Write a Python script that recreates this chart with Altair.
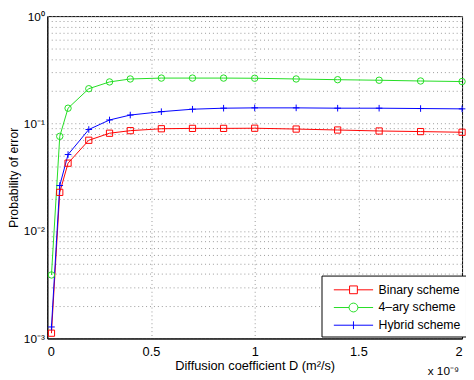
import altair as alt
import pandas as pd

# Diffusion coefficient in units of 1e-9 m^2/s
D = [0.02, 0.06, 0.1, 0.2, 0.3, 0.4, 0.55, 0.7, 0.85, 1.0, 1.2, 1.4, 1.6, 1.8, 2.0]
binary = [0.00112, 0.0229, 0.0428, 0.0699, 0.0813, 0.0859, 0.0895, 0.0902, 0.0902, 0.0905,
          0.0889, 0.0871, 0.0853, 0.0842, 0.083]
quaternary = [0.0039, 0.076, 0.139, 0.211, 0.244, 0.26, 0.265, 0.265, 0.265, 0.264,
              0.26, 0.256, 0.253, 0.249, 0.246]
hybrid = [0.00128, 0.0265, 0.0515, 0.088, 0.108, 0.12, 0.129, 0.136, 0.139, 0.140,
          0.140, 0.139, 0.139, 0.138, 0.137]
names = ["Binary scheme", "4\u2013ary scheme", "Hybrid scheme"]
colors = ["#ff0000", "#22dd22", "#0000ff"]

rows = []
for name, vals in zip(names, [binary, quaternary, hybrid]):
    for d, v in zip(D, vals):
        rows.append({"D": d, "P": v, "scheme": name})
df = pd.DataFrame(rows)

y_vals = [m * 10 ** e for e in [-3, -2, -1] for m in range(1, 10)] + [1.0]
font = "Liberation Sans"

# legend symbols: unit = 9px (symbol size 324)
sq_path = "M-2.22,0L-0.44,0M0.44,0L2.22,0M-0.44,-0.44L0.44,-0.44L0.44,0.44L-0.44,0.44Z"
ci_path = "M-2.22,0L-0.5,0M0.5,0L2.22,0M-0.5,0A0.5,0.5,0,1,0,0.5,0A0.5,0.5,0,1,0,-0.5,0"
pl_path = "M-2.22,0L2.22,0M0,-0.44L0,0.44"

xs = alt.Scale(domain=[0, 2], nice=False, zero=False)
ys = alt.Scale(type="log", domain=[0.001, 1], nice=False)

x_enc = alt.X("D:Q", scale=xs, axis=alt.Axis(
    values=[0, 0.5, 1, 1.5, 2], title="Diffusion coefficient D (m\u00b2/s)",
    labelExpr="datum.value", grid=True, ticks=False, labelPadding=7, titlePadding=2))
y_enc = alt.Y("P:Q", scale=ys, axis=alt.Axis(
    values=y_vals, title="Probability of error", grid=True, ticks=False,
    labelExpr="datum.value == 1 ? '10\u2070' : abs(datum.value - 0.1) < 1e-9 ? '10\u207b\u00b9' : abs(datum.value - 0.01) < 1e-10 ? '10\u207b\u00b2' : abs(datum.value - 0.001) < 1e-11 ? '10\u207b\u00b3' : ''",
    labelPadding=3, titlePadding=3, labelFontSize=12, titleFontSize=12.5))

lines = alt.Chart(df).mark_line(strokeWidth=1).encode(
    x=x_enc, y=y_enc,
    color=alt.Color("scheme:N", scale=alt.Scale(domain=names, range=colors), legend=None),
)

points = alt.Chart(df).mark_point(filled=False, strokeWidth=1, opacity=1).encode(
    x="D:Q", y="P:Q",
    color=alt.Color("scheme:N", scale=alt.Scale(domain=names, range=colors), legend=None),
    shape=alt.Shape("scheme:N", scale=alt.Scale(domain=names, range=["square", "circle", "M-1,0L1,0M0,-1L0,1"]), legend=None),
    size=alt.Size("scheme:N", scale=alt.Scale(domain=names, range=[40, 45, 50]), legend=None),
)

legend_layer = alt.Chart(df).transform_filter("false").mark_point(
    filled=False, strokeWidth=1, opacity=1, size=324
).encode(
    x="D:Q", y="P:Q",
    color=alt.Color("scheme:N", scale=alt.Scale(domain=names, range=colors), legend=alt.Legend(
        title=None, orient="none", legendX=279, legendY=264,
        symbolSize=324, symbolStrokeWidth=1, symbolFillColor="transparent",
        symbolOffset=18, labelOffset=16,
        labelFontSize=12.5, labelFont=font, labelColor="black", rowPadding=2,
        padding=5, strokeColor="black", fillColor="white")),
    shape=alt.Shape("scheme:N", scale=alt.Scale(domain=names, range=[sq_path, ci_path, pl_path])),
)

note = alt.Chart(pd.DataFrame({"t": ["x 10\u207b\u2079"]})).mark_text(
    font=font, fontSize=12, align="left", baseline="middle", color="black"
).encode(x=alt.value(387), y=alt.value(361), text="t:N")

chart = alt.layer(lines, points, legend_layer, note).resolve_scale(
    color="independent", shape="independent", size="independent"
).properties(
    width=422, height=328,
    padding={"left": 40, "top": 5, "right": 4, "bottom": 39},
    autosize=alt.AutoSizeParams(type="none"),
).configure_view(stroke="black", strokeWidth=1).configure_axis(
    labelFont=font, titleFont=font, labelFontSize=13, titleFontSize=13,
    labelColor="black", titleColor="black", titleFontWeight="normal",
    domainColor="black", gridColor="#999999", gridDash=[1, 3], gridWidth=1,
    gridOpacity=1,
)

chart.save("out.html", embed_options={"renderer": "svg", "actions": False})
